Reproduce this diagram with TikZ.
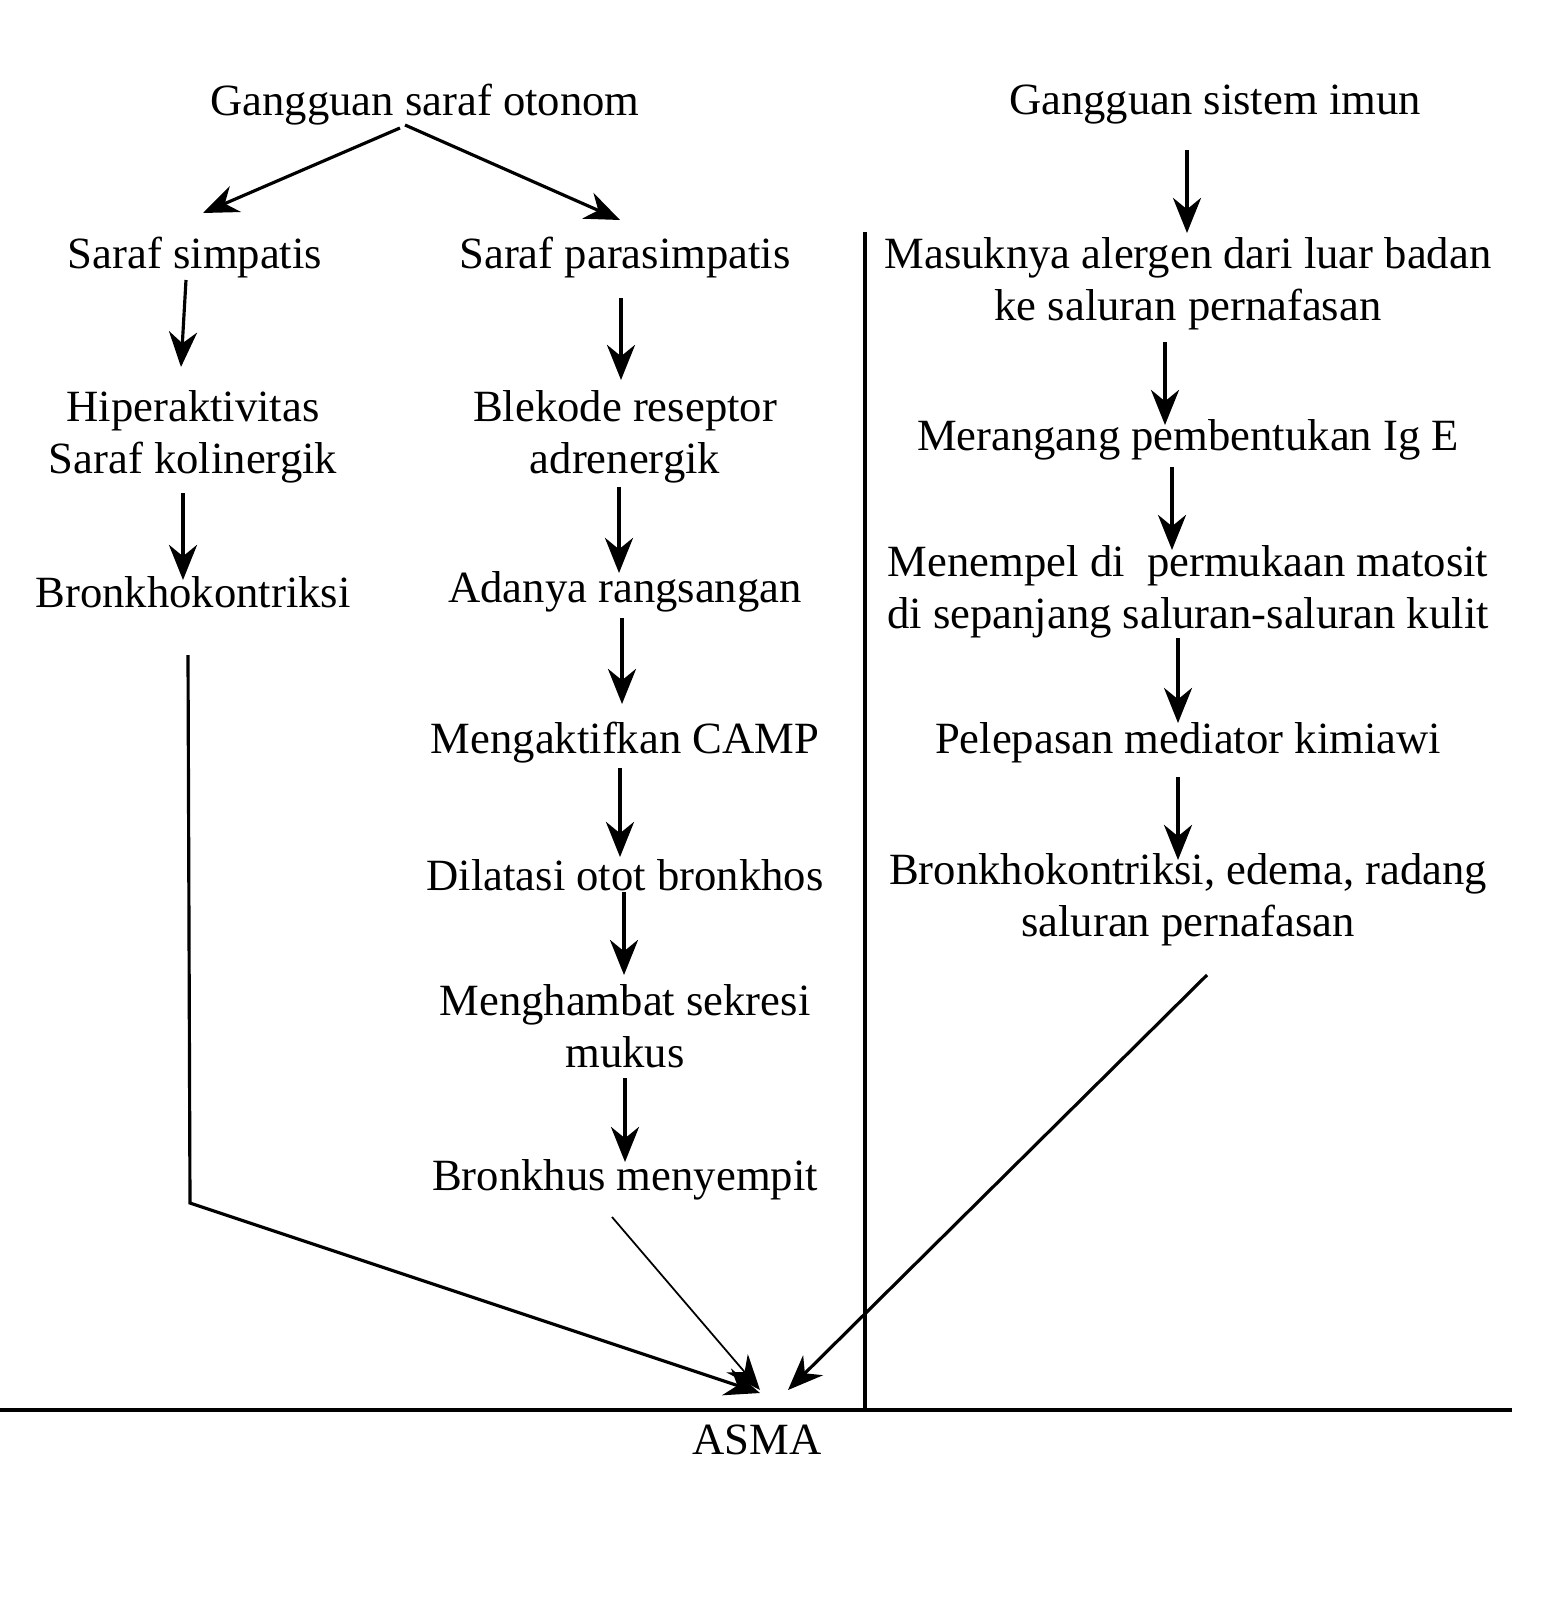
\documentclass[tikz,border=0pt]{standalone}
\usepackage{fontspec}
\setmainfont{Liberation Serif}
\usetikzlibrary{arrows.meta}
\begin{document}
\begin{tikzpicture}[x=0.01cm,y=-0.01cm,
  t/.style={font=\fontsize{12.7}{14.9}\selectfont,align=center,inner sep=0},
  ar/.style={line width=0.9pt,-{Stealth[length=10pt,width=8pt]}},
  ln/.style={line width=0.9pt}]
\useasboundingbox (0,0) rectangle (1547,1600);
\node[t] (g1) at (425,105) {Gangguan saraf otonom};
\node[t] (g2) at (1215,105) {Gangguan sistem imun};
\node[t] (s1) at (195,258) {Saraf simpatis};
\node[t] (p1) at (625,258) {Saraf parasimpatis};
\node[t] (i1) at (1188,284) {Masuknya alergen dari luar badan\\ke saluran pernafasan};
\node[t] (s2) at (193,437) {Hiperaktivitas\\Saraf kolinergik};
\node[t] (p2) at (625,437) {Blekode reseptor\\adrenergik};
\node[t] (i2) at (1188,440) {Merangang pembentukan Ig E};
\node[t] (s3) at (193,592) {Bronkhokontriksi};
\node[t] (p3) at (625,592) {Adanya rangsangan};
\node[t] (i3) at (1188,592) {Menempel di\ \ permukaan matosit\\di sepanjang saluran-saluran kulit};
\node[t] (p4) at (625,743) {Mengaktifkan CAMP};
\node[t] (i4) at (1188,743) {Pelepasan mediator kimiawi};
\node[t] (p5) at (625,875) {Dilatasi otot bronkhos};
\node[t] (i5) at (1188,900) {Bronkhokontriksi, edema, radang\\saluran pernafasan};
\node[t] (p6) at (625,1026) {Menghambat sekresi\\mukus};
\node[t] (p7) at (625,1180) {Bronkhus menyempit};
\node[t] (asma) at (757,1440) {ASMA};
\coordinate (hl) at (0,1410); \coordinate (hr) at (1512,1410);
\coordinate (vt) at (865,232); \coordinate (vb) at (865,1410);
\draw[ln] (hl) -- (hr);
\draw[ln] (vt) -- (vb);
\draw[ar] (400,128) -- (203,213);
\draw[ar] (405,125) -- (620,220);
\draw[ar] (1187,150) -- (1187,233);
\draw[ar] (186,280) -- (181,367);
\draw[ar] (621,298) -- (621,380);
\draw[ar] (1165,342) -- (1165,425);
\draw[ar] (183,493) -- (183,580);
\draw[ar] (619,487) -- (619,573);
\draw[ar] (1172,467) -- (1172,550);
\draw[ar] (622,618) -- (622,704);
\draw[ar] (1178,638) -- (1178,723);
\draw[ar] (620,768) -- (620,857);
\draw[ar] (1178,777) -- (1178,860);
\draw[ar] (624,892) -- (624,975);
\draw[ar] (625,1078) -- (625,1162);
\coordinate (k1) at (188,655); \coordinate (k2) at (190,1203); \coordinate (a1) at (760,1393);
\draw[ar] (k1) -- (k2) -- (a1);
\draw[line width=0.5pt,-{Stealth[length=10pt,width=8pt]}] (612,1217) -- (760,1390);
\draw[ar] (1207,975) -- (788,1390);
\end{tikzpicture}
\end{document}
